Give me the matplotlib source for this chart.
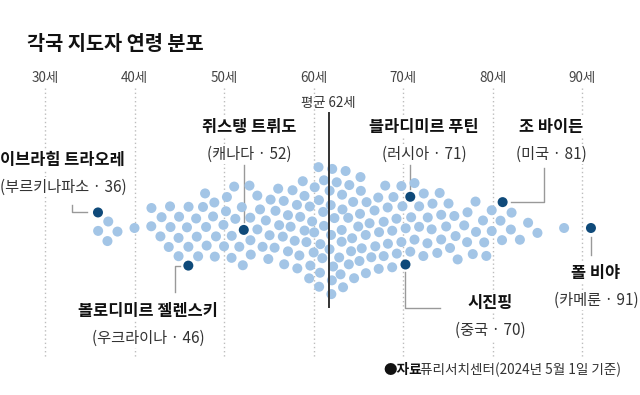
import numpy as np
import matplotlib
matplotlib.use("Agg")
import matplotlib.pyplot as plt

plt.rcParams['font.family'] = ['Noto Sans CJK KR', 'DejaVu Sans']

# ---------------- data ----------------
age_values = [36, 37, 38, 40, 42, 43, 44, 45, 46, 47, 48, 49, 50, 51, 52, 53, 54, 55,
              56, 57, 58, 59, 60, 61, 62, 63, 64, 65, 66, 67, 68, 69, 70, 71, 72,
              73, 74, 75, 76, 77, 78, 79, 80, 81, 82, 83, 84, 85, 88, 91]
age_counts = [2, 2, 1, 1, 2, 2, 3, 3, 4, 3, 4, 4, 4, 4, 4, 4, 4, 4,
              4, 5, 5, 6, 7, 9, 9, 9, 7, 6, 5, 5, 5, 5, 5, 5, 4,
              4, 4, 3, 3, 3, 3, 3, 2, 3, 2, 1, 1, 1, 1, 1]

hl_names = ['이브라힘 트라오레', '볼로디미르 젤렌스키', '쥐스탱 트뤼도',
            '시진핑', '블라디미르 푸틴', '조 바이든', '폴 비야']
hl_countries = ['부르키나파소', '우크라이나', '캐나다', '중국', '러시아', '미국', '카메룬']
hl_ages = [36, 46, 52, 70, 71, 81, 91]
hl_side = [-1, 1, -0.12, 0.4, -0.6, -1, 0]   # layout hint: up(<0) / down(>0)

tick_ages = [30, 40, 50, 60, 70, 80, 90]
mean_age = 61.7
mean_label = '평균 62세'

# ---------------- layout helpers ----------------
W, H = 640, 395
PX_PER_YEAR = 8.95
X0_PX = 45.0        # pixel of age 30
AGE_LEFT = 30 - X0_PX / PX_PER_YEAR
AGE_RIGHT = AGE_LEFT + W / PX_PER_YEAR
CY = 228.0


def ax_x(px):
    return AGE_LEFT + px / PX_PER_YEAR


# build point list
pt_age, pt_hl = [], []
for a, c in zip(age_values, age_counts):
    hl = [i for i, h in enumerate(hl_ages) if h == a]
    for k in range(c):
        pt_age.append(a)
        pt_hl.append(hl[k] if k < len(hl) else -1)
pt_age = np.array(pt_age, float)
pt_hl = np.array(pt_hl)
n = len(pt_age)

# deterministic initial stack per age column
R = 6.9
S = 2 * R
y0 = np.zeros(n)
for a in age_values:
    idx = np.where(pt_age == a)[0]
    normal = [i for i in idx if pt_hl[i] < 0]
    hls = [i for i in idx if pt_hl[i] >= 0]
    offs = [0.0] + [((-1) ** k) * ((k + 1) // 2) * S for k in range(1, len(normal) + 2)]
    for i in hls:
        sd = hl_side[pt_hl[i]]
        y0[i] = sd * (len(normal) // 2 + 1) * S + (0.01 if sd == 0 else 0)
    for j, i in enumerate(normal):
        y0[i] = offs[j + 1] if hls and hl_side[pt_hl[hls[0]]] == 0 else offs[j]

xpx = X0_PX + (pt_age - 30) * PX_PER_YEAR
x = xpx.copy()
y = y0.copy()
eye = np.eye(n) * 1e9
for it in range(400):
    x += (xpx - x) * 0.14
    y *= 0.994
    dx = x[:, None] - x[None, :]
    dy = y[:, None] - y[None, :]
    dist = np.sqrt(dx ** 2 + dy ** 2) + eye + 1e-9
    ov = np.clip(2 * R - dist, 0, None)
    x += (dx / dist * ov).sum(1) * 0.5
    y += (dy / dist * ov).sum(1) * 0.5

plot_age = AGE_LEFT + x / PX_PER_YEAR
plot_y = CY + y

# ---------------- figure ----------------
fig = plt.figure(figsize=(W / 100, H / 100), dpi=100)
ax = fig.add_axes([0, 0, 1, 1])
ax.set_xlim(AGE_LEFT, AGE_RIGHT)
ax.set_ylim(H, 0)
ax.axis('off')

LIGHT = '#a3c5e6'
DARK = '#0f4a7a'
GRID = '#bdbdbd'

# grid lines and tick labels
for t in tick_ages:
    ax.plot([t, t], [88, 357], color=GRID, lw=1.0, ls=(0, (1, 2)), zorder=1)
    ax.text(t, 78, f'{t}세', ha='center', va='center', fontsize=9.7,
            color='#444444', zorder=5)

# mean line
ax.plot([mean_age, mean_age], [113, 307], color='#333333', lw=1.4, zorder=4)
ax.text(mean_age, 103, mean_label, ha='center', va='center', fontsize=9.6,
        color='#333333', zorder=5)

# dots
norm = pt_hl < 0
ax.scatter(plot_age[norm], plot_y[norm], s=52, color=LIGHT, edgecolors='none', zorder=3)
ax.scatter(plot_age[~norm], plot_y[~norm], s=52, color=DARK, edgecolors='none', zorder=3)

# title
ax.text(ax_x(27), 45, '각국 지도자 연령 분포', ha='left', va='center',
        fontsize=14.2, fontweight='bold', color='#111111')

# labels
label_pos = {  # x px, name y, sub y, ha
    0: (0, 160, 187, 'left'),
    1: (148, 311, 338, 'center'),
    2: (249, 127, 154, 'center'),
    3: (490, 303, 330, 'center'),
    4: (424, 127, 154, 'center'),
    5: (551, 127, 154, 'center'),
    6: (596, 273, 300, 'center'),
}
bb = dict(facecolor='white', edgecolor='none', pad=1.0)
for i, (lx, ny, sy, ha) in label_pos.items():
    ax.text(ax_x(lx), ny, hl_names[i], ha=ha, va='center', fontsize=11.8,
            fontweight='bold', color='#111111', zorder=6, bbox=bb)
    ax.text(ax_x(lx), sy, f'({hl_countries[i]} · {hl_ages[i]})', ha=ha, va='center',
            fontsize=11, color='#333333', zorder=6, bbox=bb)

# leader lines
pos = {pt_hl[i]: (x[i], plot_y[i]) for i in range(n) if pt_hl[i] >= 0}
LC = '#999999'


def seg(xs, ys):
    ax.plot([ax_x(v) for v in xs], ys, color=LC, lw=1.0, zorder=2)


dx_, dy_ = pos[0]
seg([72, 72, dx_ - 11], [205, dy_, dy_])
dx_, dy_ = pos[1]
seg([dx_ - 8, 175, 175], [dy_, dy_, 292])
dx_, dy_ = pos[2]
seg([dx_, dx_], [165, dy_ - 8])
dx_, dy_ = pos[3]
seg([dx_, dx_, 440], [dy_ + 8, 308, 308])
dx_, dy_ = pos[4]
seg([dx_, dx_], [165, dy_ - 8])
dx_, dy_ = pos[5]
seg([dx_ + 8, 544, 544], [dy_, dy_, 168])
dx_, dy_ = pos[6]
seg([dx_, dx_], [dy_ + 9, 255])

# source
ax.text(ax_x(383), 370, '●자료', ha='left', va='center', fontsize=9.8,
        fontweight='bold', color='#111111')
ax.text(ax_x(420), 370, '퓨리서치센터(2024년 5월 1일 기준)', ha='left', va='center',
        fontsize=9.8, color='#333333')

fig.savefig('out.png', dpi=100, facecolor='white')
